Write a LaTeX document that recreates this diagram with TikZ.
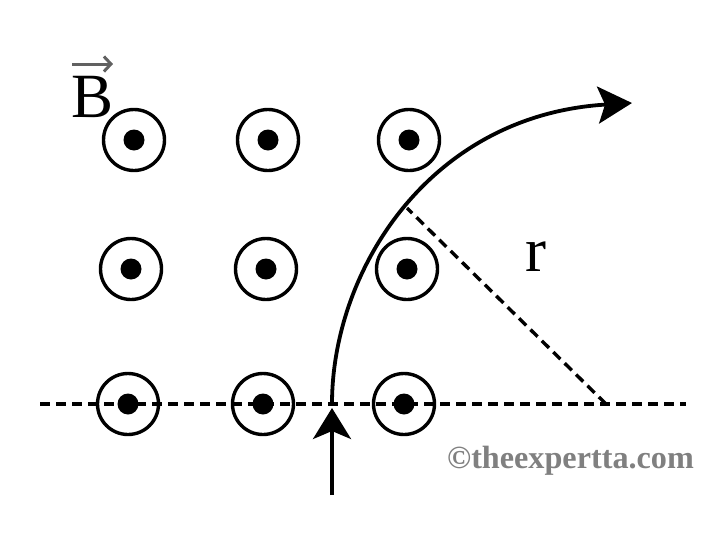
\documentclass[tikz,border=0pt]{standalone}
\usepackage{fontspec}
\setmainfont{Liberation Serif}
\usetikzlibrary{arrows.meta}
\tikzset{
  fieldring/.style={circle,draw=black,line width=3.4pt,minimum size=61pt,inner sep=0pt,fill=none},
  fielddot/.style={circle,fill=black,draw=none,minimum size=21pt,inner sep=0pt},
  dashline/.style={line width=3.4pt,dash pattern=on 10pt off 6pt},
  path/.style={line width=3.8pt},
  bighead/.style={-{Stealth[length=34pt,width=37pt,inset=7pt]}},
  lowhead/.style={-{Stealth[length=31pt,width=38pt,inset=8pt]}},
  biglabel/.style={inner sep=0pt,anchor=base,font=\fontsize{63}{63}\selectfont},
  mark text/.style={inner sep=0pt,anchor=base west,text=black!50,font=\fontsize{32.2}{32.2}\selectfont\bfseries}
}
\begin{document}
\begin{tikzpicture}[x=1pt,y=-1pt]
\useasboundingbox (0,0) rectangle (724,536);
\coordinate (ll) at (40,404);
\coordinate (lr) at (686,404);
\coordinate (center) at (606,404);
\coordinate (foot) at (407,208);
\coordinate (entry) at (332,404);
\coordinate (lowtip) at (332,408);
\coordinate (tail) at (332,495);
\coordinate (exit) at (632,103);
\coordinate (vl) at (72,64);
\coordinate (vr) at (113,64);
\draw[dashline] (ll) -- (lr);
\foreach \n/\x/\y in {a/134/140,b/268/140,c/409/140,d/131/269,e/266/269,f/407/269,g/128/404,h/263/404,i/404/404}{
  \node[fieldring] (r\n) at (\x,\y) {};
  \node[fielddot] (p\n) at (\x,\y) {};
}
\draw[dashline] (center) -- (foot);
\draw[path,bighead] (entry) .. controls (332,270) and (430,115) .. (exit);
\draw[path,lowhead] (tail) -- (lowtip);
\node[biglabel] (blabel) at (93,117) {B};
\draw[line width=3pt,black!62,-{Straight Barb[length=7pt,width=15pt]}] (vl) -- (vr);
\node[biglabel] (rlabel) at (536,271) {r};
\node[mark text] (wm) at (447,468) {©theexpertta.com};
\end{tikzpicture}
\end{document}
